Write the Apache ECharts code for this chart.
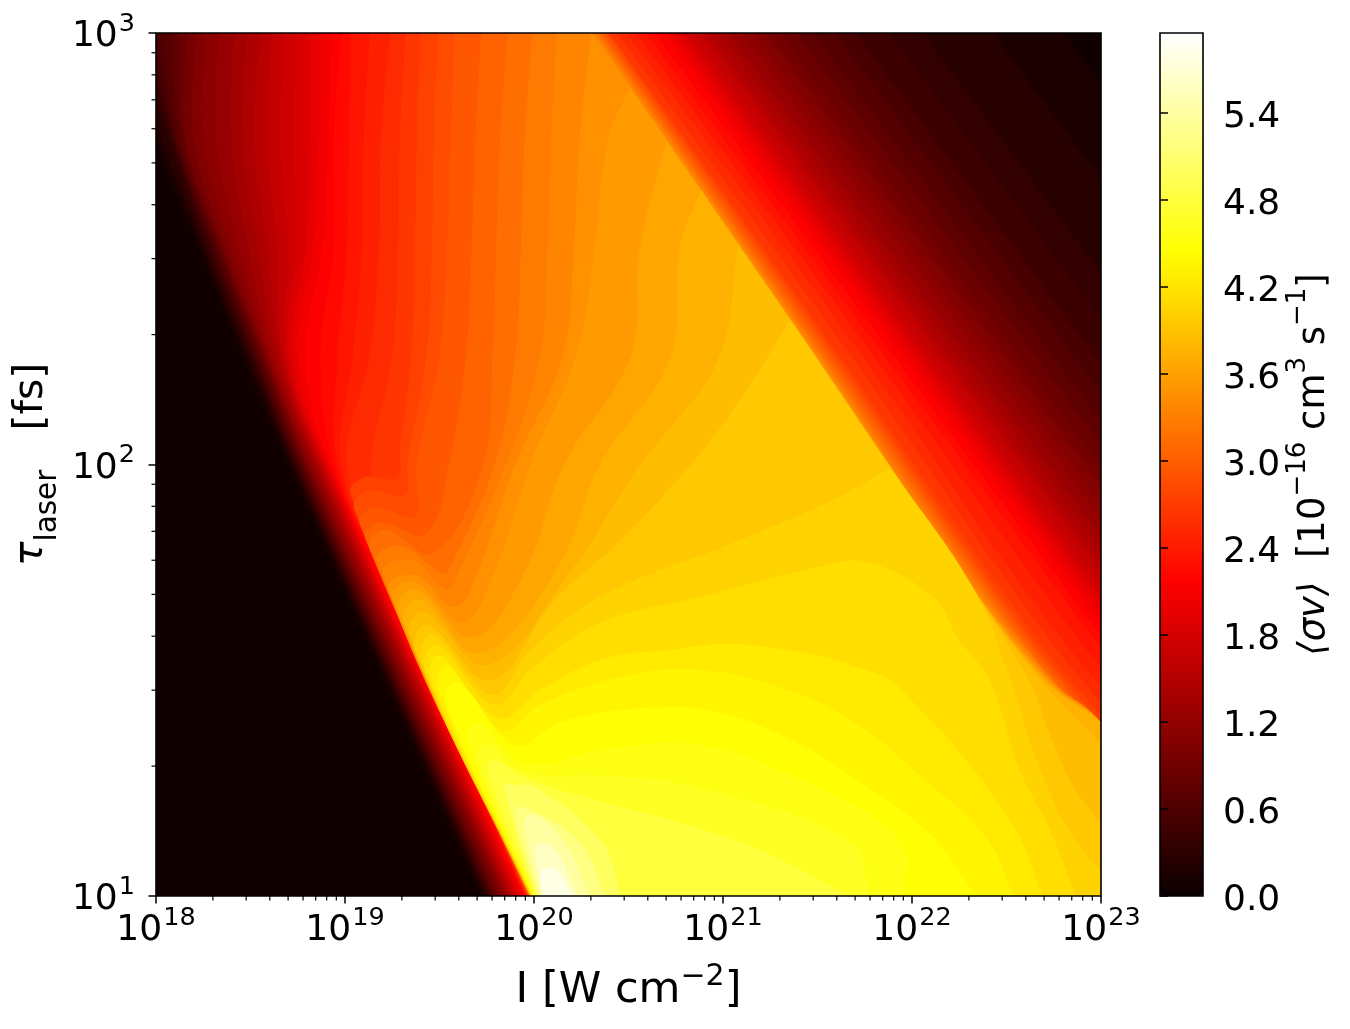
<!DOCTYPE html>
<html>
<head>
<meta charset="utf-8">
<style>html,body{margin:0;padding:0;background:#fff}#c{width:1350px;height:1029px}</style>
<script src="https://cdn.jsdelivr.net/npm/echarts@6/dist/echarts.min.js"></script>
</head>
<body>
<div id="c"></div>
<script>
// Filled contour bands.
// Each point is [log10 I (W cm^-2), log10 tau (fs)]; each region holds values >= its level.
// A repeated point is a sharp corner of the band.
const c0_0 = [[17,3.5],[24,3.5],[24,0.5],[17,0.5]];
const c0_1 = [[17.81,3],[18,2.75],[18.23,2.5],[18.46,2.25],[18.70,2],[19.72,1],[26.18,1],[22.80,3]];
const c0_2 = [[17.85,3],[18.03,2.75],[18.25,2.5],[18.48,2.25],[18.72,2],[19.74,1],[25.81,1],[22.43,3]];
const c0_3 = [[17.89,3],[18.07,2.75],[18.26,2.5],[18.50,2.25],[18.73,2],[19.75,1],[25.44,1],[22.06,3]];
const c0_4 = [[17.93,3],[18.09,2.75],[18.28,2.5],[18.51,2.25],[18.74,2],[19.76,1],[25.26,1],[21.88,3]];
const c0_5 = [[17.97,3],[18.10,2.75],[18.30,2.5],[18.52,2.25],[18.75,2],[19.77,1],[25.08,1],[21.70,3]];
const c0_6 = [[18.02,3],[18.11,2.75],[18.31,2.5],[18.53,2.25],[18.76,2],[19.78,1],[24.97,1],[21.59,3]];
const c0_7 = [[18.08,3],[18.13,2.75],[18.33,2.5],[18.55,2.25],[18.77,2],[19.79,1],[24.86,1],[21.48,3]];
const c0_8 = [[18.12,3],[18.15,2.75],[18.34,2.5],[18.56,2.25],[18.78,2],[19.80,1],[24.77,1],[21.39,3]];
const c0_9 = [[18.16,3],[18.16,2.75],[18.35,2.5],[18.57,2.25],[18.79,2],[19.81,1],[24.68,1],[21.30,3]];
const c1_0 = [[18.21,3],[18.20,2.75],[18.37,2.5],[18.58,2.25],[18.80,2],[19.83,1],[24.61,1],[21.23,3]];
const c1_1 = [[18.26,3],[18.25,2.75],[18.40,2.5],[18.59,2.25],[18.81,2],[19.84,1],[24.54,1],[21.16,3]];
const c1_2 = [[18.33,3],[18.32,2.75],[18.44,2.5],[18.60,2.25],[18.82,2],[19.85,1],[24.48,1],[21.10,3]];
const c1_3 = [[18.41,3],[18.40,2.75],[18.49,2.5],[18.62,2.25],[18.84,2],[19.86,1],[24.41,1],[21.03,3]];
const c1_4 = [[18.48,3],[18.46,2.75],[18.54,2.5],[18.64,2.25],[18.85,2],[19.87,1],[24.36,1],[20.98,3]];
const c1_5 = [[18.55,3],[18.52,2.75],[18.59,2.5],[18.66,2.25],[18.86,2],[19.88,1],[24.31,1],[20.93,3]];
const c1_6 = [[18.61,3],[18.59,2.75],[18.64,2.5],[18.67,2.25],[18.87,2],[19.89,1],[24.27,1],[20.89,3]];
const c1_7 = [[18.68,3],[18.66,2.75],[18.70,2.5],[18.69,2.25],[18.88,2],[19.90,1],[24.22,1],[20.84,3]];
const c1_8 = [[18.74,3],[18.73,2.75],[18.74,2.5],[18.70,2.25],[18.89,2],[19.91,1],[24.18,1],[20.80,3]];
const c1_9 = [[18.81,3],[18.81,2.75],[18.79,2.5],[18.72,2.25],[18.90,2],[19.92,1],[24.15,1],[20.77,3]];
const c2_0 = [[18.87,3],[18.86,2.75],[18.83,2.5],[18.75,2.25],[18.91,2],[19.93,1],[24.11,1],[20.73,3]];
const c2_1 = [[18.93,3],[18.91,2.75],[18.88,2.5],[18.79,2.25],[18.92,2],[19.94,1],[24.07,1],[20.69,3]];
const c2_2 = [[18.98,3],[18.94,2.75],[18.94,2.5],[18.87,2.25],[18.94,2],[19.18,1.75],[19.95,1],[24.02,1],[20.64,3]];
const c2_3 = [[19.03,3],[19.02,2.75],[19.01,2.5],[18.96,2.25],[18.96,2],[19.19,1.75],[19.96,1],[23.97,1],[20.59,3]];
const c2_4 = [[19.13,3],[19.10,2.75],[19.09,2.5],[19.04,2.25],[18.98,2],[19.20,1.75],[19.96,1],[23.96,1],[23.05,1.5],[22.62,1.75],[21.80,2.25],[20.54,3]];
const c2_5 = [[19.24,3],[19.19,2.75],[19.18,2.5],[19.13,2.25],[19.01,2],[19.21,1.75],[19.96,1],[23.95,1],[22.97,1.5],[22.53,1.75],[21.74,2.25],[20.49,3]];
const c2_6 = [[19.32,3],[19.29,2.75],[19.28,2.5],[19.25,2.25],[19.14,2],[19.20,1.8],[19.97,1],[23.90,1],[22.90,1.5],[22.47,1.75],[21.68,2.25],[20.44,3]];
const c2_7 = [[19.40,3],[19.38,2.75],[19.37,2.5],[19.35,2.25],[19.29,2.034],[19.28,1.97],[19.10,1.97],[19.03,1.93],[19.97,1],[23.84,1],[22.84,1.5],[22.41,1.75],[21.62,2.25],[20.40,3]];
const c2_8 = [[19.49,3],[19.47,2.75],[19.46,2.5],[19.43,2.25],[19.33,2],[19.32,1.93],[19.12,1.94],[19.05,1.895],[19.97,1],[23.81,1],[22.81,1.5],[22.38,1.75],[21.60,2.25],[20.39,3]];
const c2_9 = [[19.58,3],[19.56,2.75],[19.54,2.5],[19.50,2.25],[19.38,2],[19.37,1.88],[19.15,1.90],[19.08,1.86],[19.97,1],[23.79,1],[22.79,1.5],[22.36,1.75],[21.58,2.25],[20.38,3]];
const c3_0 = [[19.72,3],[19.69,2.75],[19.67,2.5],[19.64,2.25],[19.55,2],[19.43,1.84],[19.18,1.865],[19.11,1.825],[19.98,1],[23.77,1],[22.77,1.5],[22.34,1.75],[21.56,2.25],[20.36,3]];
const c3_1 = [[19.86,3],[19.82,2.75],[19.80,2.5],[19.78,2.25],[19.73,2],[19.47,1.795],[19.21,1.848],[19.13,1.806],[19.98,1],[23.76,1],[22.75,1.5],[22.32,1.75],[21.54,2.25],[20.35,3]];
const c3_2 = [[19.99,3],[19.95,2.75],[19.93,2.5],[19.90,2.25],[19.79,2],[19.54,1.75],[19.50,1.75],[19.29,1.813],[19.17,1.774],[19.98,1],[23.74,1],[22.745,1.5],[22.30,1.75],[21.525,2.25],[20.335,3]];
const c3_3 = [[20.12,3],[20.09,2.75],[20.07,2.5],[20.03,2.25],[19.85,2],[19.60,1.75],[19.54,1.71],[19.355,1.779],[19.20,1.744],[19.98,1],[23.72,1],[22.74,1.5],[22.28,1.75],[21.51,2.25],[20.32,3]];
const c3_4 = [[20.30,3],[20.24,2.75],[20.21,2.5],[20.15,2.25],[19.90,2],[19.70,1.75],[19.58,1.67],[19.37,1.744],[19.23,1.71],[19.98,1],[23.50,1],[23.0,1.4],[22.73,1.5],[22.27,1.75],[21.50,2.25],[20.31,3]];
const c3_5 = [[20.507,2.875],[20.507,2.875],[20.39,2.75],[20.32,2.5],[20.22,2.25],[19.98,2],[19.79,1.75],[19.62,1.633],[19.365,1.728],[19.25,1.69],[19.98,1],[23.26,1],[23.02,1.37],[22.72,1.5],[22.26,1.75],[21.49,2.25]];
const c3_6 = [[20.70,2.75],[20.70,2.75],[20.56,2.5],[20.51,2.25],[20.16,2],[19.95,1.75],[19.67,1.598],[19.38,1.71],[19.28,1.663],[19.98,1],[23.26,1],[23.05,1.37],[22.71,1.5],[22.26,1.75],[21.49,2.25]];
const c3_7 = [[20.883,2.636],[20.883,2.636],[20.77,2.5],[20.72,2.25],[20.35,2],[20.11,1.75],[19.71,1.563],[19.40,1.686],[19.31,1.635],[19.98,1],[23.26,1],[23.07,1.36],[22.70,1.5],[22.26,1.75],[21.49,2.25]];
const c3_8 = [[21.08,2.509],[21.08,2.509],[20.98,2.25],[20.67,2.057],[20.56,2],[20.19,1.75],[19.75,1.535],[19.42,1.658],[19.34,1.605],[19.98,1],[23.25,1],[23.05,1.31],[22.68,1.5],[22.26,1.75],[21.49,2.25]];
const c3_9 = [[21.356,2.335],[21.356,2.335],[21.09,2.15],[20.83,2],[20.46,1.825],[20.11,1.686],[19.77,1.5],[19.44,1.628],[19.37,1.57],[19.98,1],[23.21,1],[23.07,1.125],[22.86,1.25],[22.73,1.375],[22.62,1.5],[22.26,1.75],[21.49,2.25]];
const c4_0 = [[21.887,1.992],[21.887,1.992],[21.58,1.918],[21.05,1.818],[20.35,1.693],[19.98,1.57],[19.78,1.466],[19.47,1.605],[19.40,1.547],[19.985,1],[23.13,1],[22.87,1.125],[22.68,1.292],[22.52,1.5],[22.33,1.709]];
const c4_1 = [[21.76,1.774],[21.50,1.762],[20.88,1.693],[20.35,1.633],[19.98,1.524],[19.79,1.443],[19.49,1.582],[19.42,1.528],[19.99,1],[22.87,1],[22.73,1.153],[22.57,1.292],[22.41,1.5],[22.25,1.593],[22.11,1.693]];
const c4_2 = [[21.14,1.582],[20.70,1.57],[20.35,1.547],[20.03,1.477],[19.81,1.413],[19.50,1.558],[19.45,1.505],[19.99,1],[22.69,1],[22.57,1.137],[22.33,1.292],[22.07,1.419],[21.83,1.512]];
const c4_3 = [[20.88,1.524],[20.46,1.508],[20.03,1.443],[19.83,1.385],[19.54,1.535],[19.49,1.482],[19.99,1],[22.54,1],[22.39,1.137],[22.07,1.269],[21.72,1.396],[21.35,1.477]];
const c4_4 = [[20.61,1.436],[20.14,1.403],[19.90,1.35],[19.60,1.496],[19.53,1.454],[19.995,1],[22.34,1],[22.11,1.137],[21.76,1.253],[21.41,1.35],[20.98,1.426]];
const c4_5 = [[21.96,1],[21.94,1.125],[21.50,1.25],[20.88,1.35],[20.35,1.338],[20.03,1.304],[19.87,1.327],[19.71,1.403],[19.65,1.361],[20.0,1]];
const c4_6 = [[21.78,1],[21.67,1.125],[20.88,1.25],[20.35,1.28],[20.03,1.28],[19.87,1.304],[19.77,1.35],[19.70,1.315],[20.0,1]];
const c4_7 = [[21.67,1],[21.09,1.125],[20.11,1.25],[19.93,1.28],[19.79,1.315],[19.75,1.292],[20.01,1]];
const c4_9 = [[20.46,1],[20.36,1.125],[20.02,1.25],[19.90,1.257],[19.84,1.257],[20.01,1]];
const c5_1 = [[19.90,1.2],[20.02,1],[20.38,1],[20.24,1.125],[19.98,1.2]];
const c5_3 = [[19.95,1.176],[20.03,1],[20.30,1],[20.16,1.125],[20.01,1.188]];
const c5_5 = [[20.01,1.118],[20.04,1],[20.23,1],[20.11,1.107]];
const c5_7 = [[20.04,1.06],[20.05,1],[20.20,1],[20.12,1.06]];

const bandValues = [0.05,0.15,0.25,0.35,0.45,0.55,0.65,0.75,0.85,0.95,1.05,1.15,1.25,1.35,1.45,1.55,1.65,1.75,1.85,1.95,2.05,2.15,2.25,2.35,2.45,2.55,2.65,2.75,2.85,2.95,3.05,3.15,3.25,3.35,3.45,3.55,3.65,3.75,3.85,3.95,4.05,4.15,4.25,4.35,4.45,4.55,4.65,4.8,5.0,5.2,5.4,5.6,5.8];
const bandShapes = [c0_0,c0_1,c0_2,c0_3,c0_4,c0_5,c0_6,c0_7,c0_8,c0_9,c1_0,c1_1,c1_2,c1_3,c1_4,c1_5,c1_6,c1_7,c1_8,c1_9,c2_0,c2_1,c2_2,c2_3,c2_4,c2_5,c2_6,c2_7,c2_8,c2_9,c3_0,c3_1,c3_2,c3_3,c3_4,c3_5,c3_6,c3_7,c3_8,c3_9,c4_0,c4_1,c4_2,c4_3,c4_4,c4_5,c4_6,c4_7,c4_9,c5_1,c5_3,c5_5,c5_7];

const xDecades = [18,19,20,21,22];
const yDecades = [1,2];
const minorMultiples = [2,3,4,5,6,7,8,9];
const colorbarTicks = [0,0.6,1.2,1.8,2.4,3.0,3.6,4.2,4.8,5.4];
const colorbarMax = 5.95;

const FONT = 'DejaVu Sans';
const clamp = v => Math.max(0, Math.min(1, v));
const hot = [];
for (let i = 0; i <= 64; i++) {
  const t = i / 64;
  const r = Math.round(255 * (0.0416 + 0.9584 * clamp(t / 0.365)));
  const g = Math.round(255 * clamp((t - 0.365) / 0.381));
  const b = Math.round(255 * clamp((t - 0.746) / 0.254));
  hot.push('rgb(' + r + ',' + g + ',' + b + ')');
}
// Carries a band's edge past the plot frame, so rounding its corners stays out of sight.
function pastFrame(pts) {
  const n = pts.length, out = [];
  const beyond = (a, b) => {
    const t = 0.3 / Math.max(Math.abs(b[1] - a[1]), 0.01);
    return [b[0] + (b[0] - a[0]) * t, b[1] + (b[1] - a[1]) * t];
  };
  for (let i = 0; i < n; i++) {
    const p = pts[i], next = pts[(i + 1) % n];
    out.push(p);
    if (p[1] === next[1] && (p[1] === 1 || p[1] === 3)) {
      out.push(beyond(pts[(i - 1 + n) % n], p), beyond(pts[(i + 2) % n], next));
    }
  }
  return out;
}
const minorX = [], minorY = [];
xDecades.forEach(d => minorMultiples.forEach(m => minorX.push([m * Math.pow(10, d), 10])));
yDecades.forEach(d => minorMultiples.forEach(m => minorY.push([1e18, m * Math.pow(10, d)])));

const powLabel = v => '{b|10}{s|' + Math.round(Math.log10(v)) + '}';
const powRich = {
  b: {fontFamily: FONT, fontSize: 36, color: '#000', lineHeight: 44, verticalAlign: 'bottom'},
  s: {fontFamily: FONT, fontSize: 25.5, color: '#000', lineHeight: 44, verticalAlign: 'top', padding: [0,0,0,1]}
};
const makeMinor = horizontal => (params, api) => {
  const p = api.coord([api.value(0), api.value(1)]);
  const s = {stroke: '#000', lineWidth: 1.2};
  return horizontal
    ? {type: 'line', shape: {x1: p[0], y1: p[1], x2: p[0], y2: p[1] + 4.5}, style: s}
    : {type: 'line', shape: {x1: p[0], y1: p[1], x2: p[0] - 4.5, y2: p[1]}, style: s};
};

const chart = echarts.init(document.getElementById('c'), null, {renderer: 'canvas'});
chart.setOption({
  animation: false,
  backgroundColor: '#fff',
  textStyle: {fontFamily: FONT},
  grid: [
    {left: 156, top: 33, width: 945, height: 863, show: true, z: 8, backgroundColor: 'transparent', borderColor: '#000', borderWidth: 1.6, outerBoundsMode: 'none'},
    {left: 1160, top: 33, width: 43, height: 863, show: true, z: 8, backgroundColor: 'transparent', borderColor: '#000', borderWidth: 1.6, outerBoundsMode: 'none'}
  ],
  xAxis: [
    {type: 'log', logBase: 10, min: 1e18, max: 1e23, gridIndex: 0, interval: 1, splitLine: {show: false}, minorTick: {show: false},
     axisLine: {show: false}, axisTick: {length: 7.5, lineStyle: {color: '#000', width: 1.5}}, z: 9,
     axisLabel: {formatter: powLabel, rich: powRich, margin: 9, showMinLabel: true, showMaxLabel: true, hideOverlap: false},
     name: '{t|I [W cm}{u|\u22122}{t|]}', nameLocation: 'middle', nameGap: 66,
     nameTextStyle: {rich: {t: {fontFamily: FONT, fontSize: 43, color: '#000', lineHeight: 50, verticalAlign: 'bottom'}, u: {fontFamily: FONT, fontSize: 30, color: '#000', lineHeight: 50, verticalAlign: 'top'}}}},
    {type: 'value', gridIndex: 1, min: 0, max: 1, show: false}
  ],
  yAxis: [
    {type: 'log', logBase: 10, min: 10, max: 1000, gridIndex: 0, interval: 1, splitLine: {show: false}, minorTick: {show: false},
     axisLine: {show: false}, axisTick: {length: 7.5, lineStyle: {color: '#000', width: 1.5}}, z: 9,
     axisLabel: {formatter: powLabel, rich: powRich, margin: 21, showMinLabel: true, showMaxLabel: true, hideOverlap: false},
     name: '{g|\u03c4}{l|laser}{t|   [fs]}', nameLocation: 'middle', nameGap: 93, nameRotate: 90, nameMoveOverlap: false,
     nameTextStyle: {rich: {g: {fontFamily: FONT, fontStyle: 'italic', fontSize: 41, color: '#000', lineHeight: 52, verticalAlign: 'top'}, l: {fontFamily: FONT, fontSize: 29.5, color: '#000', lineHeight: 52, verticalAlign: 'bottom'}, t: {fontFamily: FONT, fontSize: 41, color: '#000', lineHeight: 52, verticalAlign: 'top'}}}},
    {type: 'value', gridIndex: 1, min: 0, max: colorbarMax, position: 'right', splitLine: {show: false},
     axisLine: {show: false}, z: 9,
     axisTick: {show: true, length: 8, lineStyle: {color: '#000', width: 1.5}, customValues: colorbarTicks},
     axisLabel: {customValues: colorbarTicks, formatter: v => '{v|' + v.toFixed(1) + '}', margin: 20,
       rich: {v: {fontFamily: FONT, fontSize: 36, color: '#000', lineHeight: 44, padding: [9,0,0,0]}}},
     name: '{i|\u27e8\u03c3v\u27e9}{t|  [10}{u|\u221216}{t| cm}{u|3}{t| s}{u|\u22121}{t|]}', nameLocation: 'middle', nameGap: 82, nameRotate: 90,
     nameTextStyle: {rich: {i: {fontFamily: FONT, fontStyle: 'italic', fontSize: 37, color: '#000', lineHeight: 48, verticalAlign: 'bottom'}, t: {fontFamily: FONT, fontSize: 37, color: '#000', lineHeight: 48, verticalAlign: 'bottom'}, u: {fontFamily: FONT, fontSize: 26, color: '#000', lineHeight: 48, verticalAlign: 'top'}}}}
  ],
  visualMap: {
    type: 'continuous', seriesIndex: 0, dimension: 1, min: 0, max: colorbarMax, calculable: false, hoverLink: false,
    left: 1160, top: 33, itemWidth: 43, itemHeight: 863, text: null, showLabel: false, z: 1, padding: 0,
    inRange: {color: hot}, textStyle: {color: 'transparent'}
  },
  series: [
    {type: 'custom', xAxisIndex: 0, yAxisIndex: 0, clip: true, z: 2, silent: true,
     data: bandValues.map((v, i) => [i + 1, v]),
     renderItem: (params, api) => ({
       type: 'polygon',
       shape: {points: pastFrame(bandShapes[params.dataIndex]).map(p => api.coord([Math.pow(10, p[0]), Math.pow(10, p[1])])), smooth: 0.4},
       style: {fill: api.visual('color')}
     })},
    {type: 'custom', name: 'minorX', xAxisIndex: 0, yAxisIndex: 0, clip: false, z: 9, silent: true, data: minorX, renderItem: makeMinor(true)},
    {type: 'custom', name: 'minorY', xAxisIndex: 0, yAxisIndex: 0, clip: false, z: 9, silent: true, data: minorY, renderItem: makeMinor(false)}
  ]
});
</script>
</body>
</html>
